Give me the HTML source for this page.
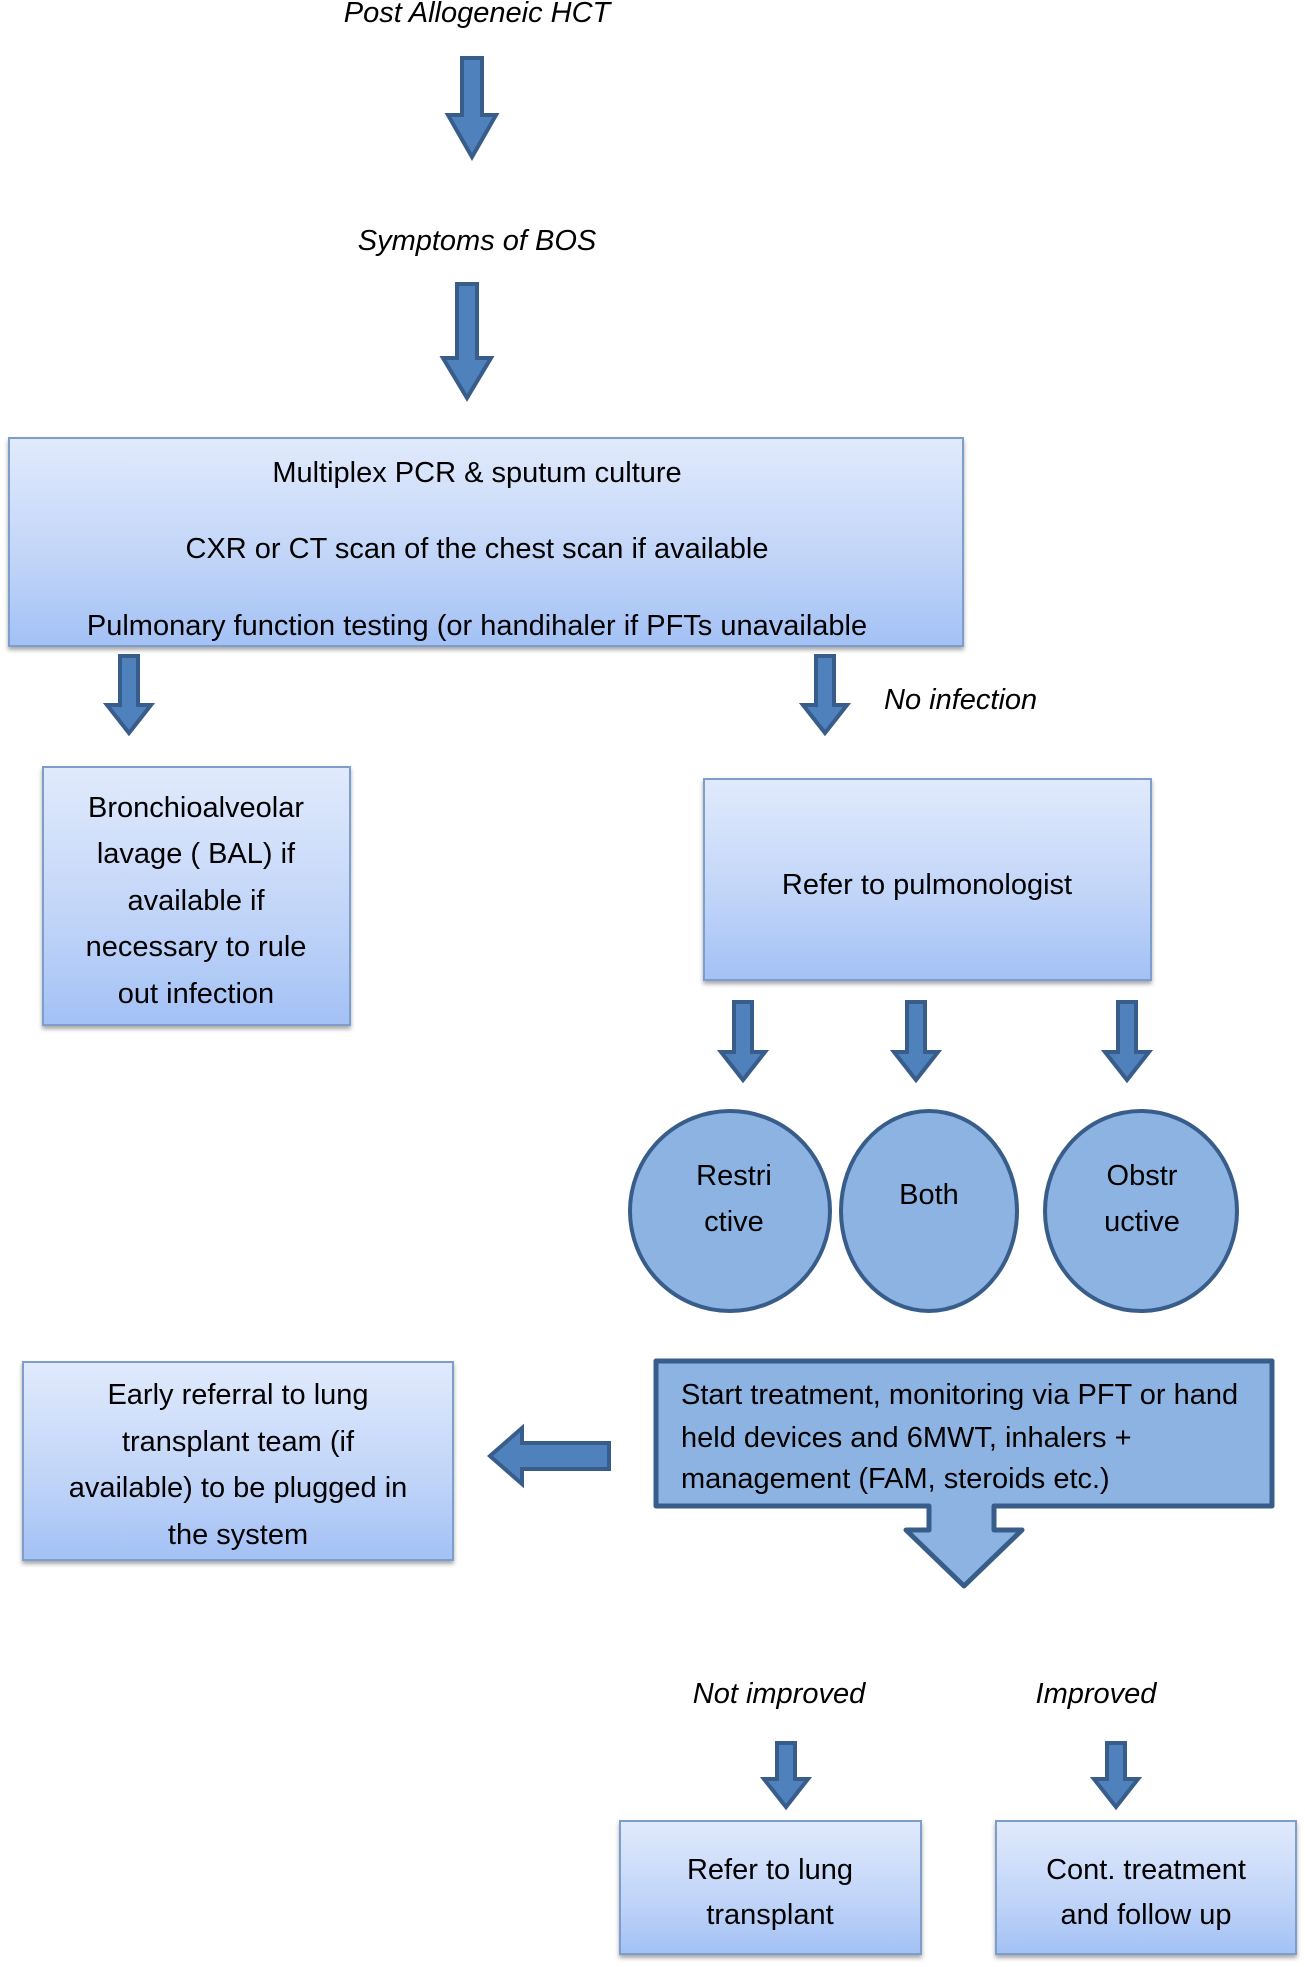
<!DOCTYPE html>
<html><head><meta charset="utf-8"><style>
html,body{margin:0;padding:0;background:#fff}
svg{display:block}
text{font-family:"Liberation Sans",Arial,sans-serif;fill:#000}
.i{font-style:italic;font-size:29px}
.t{font-size:29px}
</style></head><body>
<svg width="1305" height="1967" viewBox="0 0 1305 1967" xmlns="http://www.w3.org/2000/svg">
<defs>
<linearGradient id="g" x1="0" y1="0" x2="0" y2="1">
<stop offset="0" stop-color="#e1eafc"/><stop offset="0.6" stop-color="#c0d4f8"/><stop offset="1" stop-color="#a3c1f5"/>
</linearGradient>
<filter id="s" x="-5%" y="-5%" width="110%" height="115%"><feDropShadow dx="0" dy="3" stdDeviation="2" flood-color="#000" flood-opacity="0.35"/></filter>
</defs>
<g fill="#4f81bd" stroke="#385d8a" stroke-width="4" stroke-linejoin="miter">
<path d="M462 58 H482 V115 H496 L472 157 L448 115 H462 Z"/>
<path d="M457 284 H477 V358 H491 L467 398 L443 358 H457 Z"/>
<path d="M120 656 H138 V705 H151 L129 733 L107 705 H120 Z"/>
<path d="M816 656 H834 V705 H847 L825 733 L803 705 H816 Z"/>
<path d="M734 1002 H752 V1052 H765 L743 1080 L721 1052 H734 Z"/>
<path d="M907 1002 H925 V1052 H938 L916 1080 L894 1052 H907 Z"/>
<path d="M1118 1002 H1136 V1052 H1149 L1127 1080 L1105 1052 H1118 Z"/>
<path d="M777 1743 H795 V1779 H808 L786 1807 L764 1779 H777 Z"/>
<path d="M1107 1743 H1125 V1779 H1138 L1116 1807 L1094 1779 H1107 Z"/>
<path d="M609 1443 V1469 H522 V1484 L490 1456 L522 1428 V1443 Z"/>
</g>
<text class="i" x="477" y="22" text-anchor="middle">Post Allogeneic HCT</text>
<text class="i" x="477" y="250" text-anchor="middle">Symptoms of BOS</text>
<text class="i" x="884" y="709">No infection</text>
<text class="i" x="779" y="1703" text-anchor="middle">Not improved</text>
<text class="i" x="1096" y="1703" text-anchor="middle">Improved</text>
<rect x="9" y="438" width="954" height="208" fill="url(#g)" stroke="#7d9dcb" stroke-width="2" filter="url(#s)"/>
<text class="t" x="477" y="482" text-anchor="middle">Multiplex PCR &amp; sputum culture</text>
<text class="t" x="477" y="558" text-anchor="middle">CXR or CT scan of the chest scan if available</text>
<text class="t" x="477" y="635" text-anchor="middle">Pulmonary function testing (or handihaler if PFTs unavailable</text>
<rect x="43" y="767" width="307" height="258" fill="url(#g)" stroke="#7d9dcb" stroke-width="2" filter="url(#s)"/>
<text class="t" x="196" y="817" text-anchor="middle">Bronchioalveolar</text>
<text class="t" x="196" y="863" text-anchor="middle">lavage ( BAL) if</text>
<text class="t" x="196" y="910" text-anchor="middle">available if</text>
<text class="t" x="196" y="956" text-anchor="middle">necessary to rule</text>
<text class="t" x="196" y="1003" text-anchor="middle">out infection</text>
<rect x="704" y="779" width="447" height="201" fill="url(#g)" stroke="#7d9dcb" stroke-width="2" filter="url(#s)"/>
<text class="t" x="927" y="894" text-anchor="middle">Refer to pulmonologist</text>
<g fill="#8db3e2" stroke="#385d8a" stroke-width="4">
<ellipse cx="730" cy="1211" rx="100" ry="100"/>
<ellipse cx="929" cy="1211" rx="88" ry="100"/>
<ellipse cx="1141" cy="1211" rx="96" ry="100"/>
</g>
<text class="t" x="734" y="1185" text-anchor="middle">Restri</text>
<text class="t" x="734" y="1231" text-anchor="middle">ctive</text>
<text class="t" x="929" y="1204" text-anchor="middle">Both</text>
<text class="t" x="1142" y="1185" text-anchor="middle">Obstr</text>
<text class="t" x="1142" y="1231" text-anchor="middle">uctive</text>
<path d="M656 1361 H1272 V1506 H994 V1530 H1022 L964 1586 L906 1530 H929 V1506 H656 Z" fill="#8db3e2" stroke="#385d8a" stroke-width="5" stroke-linejoin="round"/>
<text class="t" x="681" y="1404">Start treatment, monitoring via PFT or hand</text>
<text class="t" x="681" y="1447">held devices and 6MWT, inhalers +</text>
<text class="t" x="681" y="1488">management (FAM, steroids etc.)</text>
<rect x="23" y="1362" width="430" height="198" fill="url(#g)" stroke="#7d9dcb" stroke-width="2" filter="url(#s)"/>
<text class="t" x="238" y="1404" text-anchor="middle">Early referral to lung</text>
<text class="t" x="238" y="1451" text-anchor="middle">transplant team (if</text>
<text class="t" x="238" y="1497" text-anchor="middle">available) to be plugged in</text>
<text class="t" x="238" y="1544" text-anchor="middle">the system</text>
<rect x="620" y="1821" width="301" height="133" fill="url(#g)" stroke="#7d9dcb" stroke-width="2" filter="url(#s)"/>
<text class="t" x="770" y="1879" text-anchor="middle">Refer to lung</text>
<text class="t" x="770" y="1924" text-anchor="middle">transplant</text>
<rect x="996" y="1821" width="300" height="133" fill="url(#g)" stroke="#7d9dcb" stroke-width="2" filter="url(#s)"/>
<text class="t" x="1146" y="1879" text-anchor="middle">Cont. treatment</text>
<text class="t" x="1146" y="1924" text-anchor="middle">and follow up</text>
</svg>
</body></html>
